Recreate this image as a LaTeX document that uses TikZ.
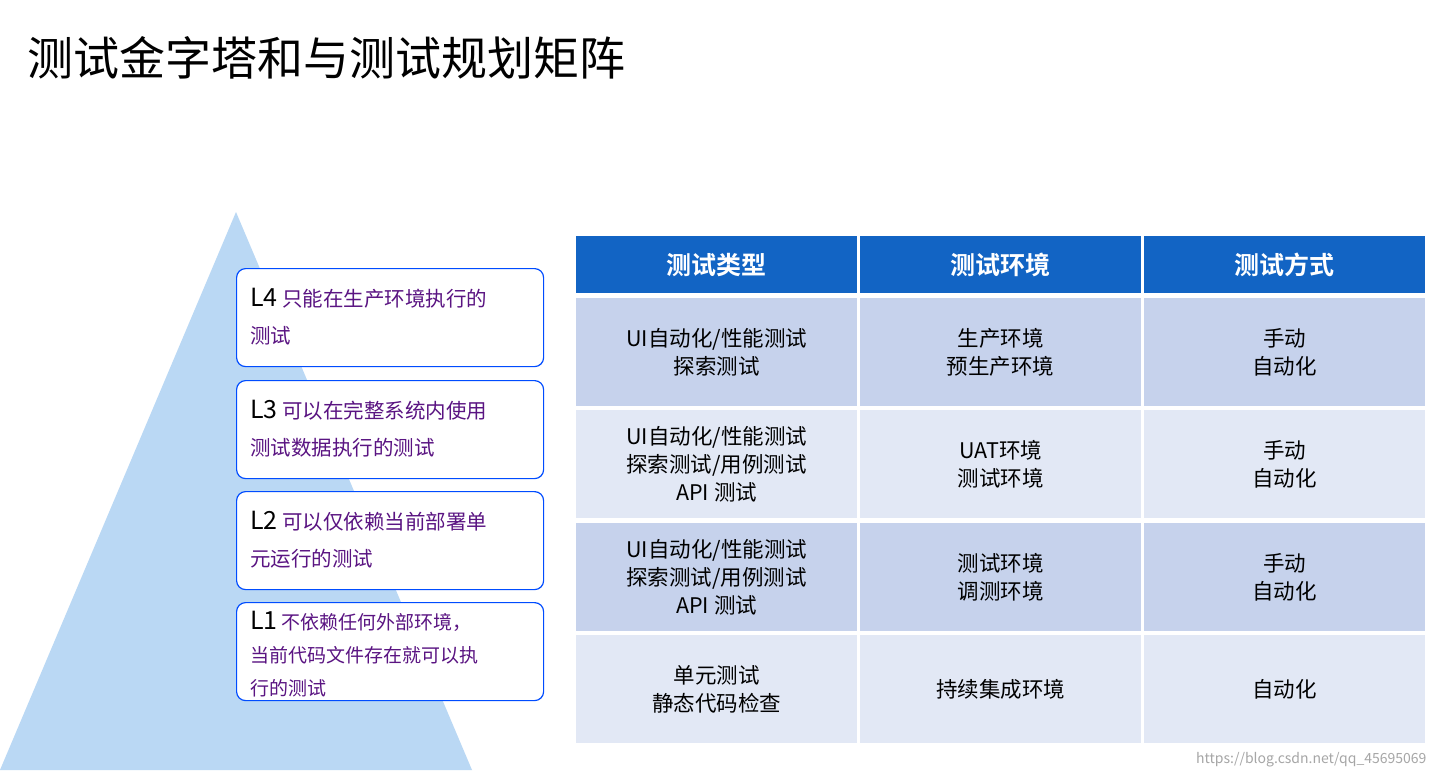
\documentclass[tikz,border=0pt]{standalone}
\usepackage{fontspec}
\setmainfont{Noto Sans CJK SC}
\newfontfamily\cjk{Noto Sans CJK SC}
\newfontfamily\cjkb{Noto Sans CJK SC Bold}
\begin{document}
\begin{tikzpicture}[x=1pt,y=-1pt,
  lvbox/.style={draw=blue!70!cyan,line width=1.2pt,rounded corners=9pt,fill=white,minimum width=307pt,anchor=north west,inner sep=0},
  hdr/.style={fill=tblue,text=white,font=\cjkb\fontsize{25}{28}\selectfont,minimum width=281pt,minimum height=57pt,anchor=north west,inner sep=0},
  cdark/.style={fill=rowdark,minimum width=281pt,minimum height=108pt,anchor=north west,inner sep=0,align=center,font=\cjk\fontsize{21.5}{28}\selectfont},
  clight/.style={cdark,fill=rowlight}]
\definecolor{tblue}{RGB}{18,100,196}
\definecolor{rowdark}{RGB}{198,210,236}
\definecolor{rowlight}{RGB}{226,232,245}
\definecolor{tri}{RGB}{186,216,244}
\definecolor{lvtext}{RGB}{90,20,130}
\useasboundingbox (0,0) rectangle (1435,777);
\fill[white] (0,0) rectangle (1435,777);
\node[anchor=west,font=\cjk\fontsize{46}{50}\selectfont] (title) at (24,58) {测试金字塔和与测试规划矩阵};
\fill[tri] (236,212) -- (472,770) -- (0,770) -- cycle;
\newcommand\lv[5]{\node[lvbox,minimum height=98pt] (#1) at (236,#2) {};
 \node[anchor=north west,align=left,inner sep=0,font=\cjk\fontsize{20.5}{37}\selectfont,text=lvtext] (#1t) at (250,#2+20) {{\fontsize{25}{37}\selectfont\color{black}#3} #4\\#5};}
\lv{l4}{268}{L4}{只能在生产环境执行的}{测试}
\lv{l3}{380}{L3}{可以在完整系统内使用}{测试数据执行的测试}
\lv{l2}{491}{L2}{可以仅依赖当前部署单}{元运行的测试}
\node[lvbox,minimum height=98pt] (l1) at (236,602) {};
\node[anchor=north west,align=left,inner sep=0,font=\cjk\fontsize{19}{33}\selectfont,text=lvtext] (l1t) at (250,611) {{\fontsize{25}{33}\selectfont\color{black}L1} 不依赖任何外部环境，\\当前代码文件存在就可以执\\行的测试};
\node[hdr] (h1) at (576,236) {测试类型};
\node[hdr] (h2) at (860,236) {测试环境};
\node[hdr] (h3) at (1144,236) {测试方式};
\node[cdark] (a1) at (576,298) {UI自动化/性能测试\\探索测试};
\node[cdark] (b1) at (860,298) {生产环境\\预生产环境};
\node[cdark] (c1) at (1144,298) {手动\\自动化};
\node[clight] (a2) at (576,410) {UI自动化/性能测试\\探索测试/用例测试\\API 测试};
\node[clight] (b2) at (860,410) {UAT环境\\测试环境};
\node[clight] (c2) at (1144,410) {手动\\自动化};
\node[cdark] (a3) at (576,523) {UI自动化/性能测试\\探索测试/用例测试\\API 测试};
\node[cdark] (b3) at (860,523) {测试环境\\调测环境};
\node[cdark] (c3) at (1144,523) {手动\\自动化};
\node[clight] (a4) at (576,635) {单元测试\\静态代码检查};
\node[clight] (b4) at (860,635) {持续集成环境};
\node[clight] (c4) at (1144,635) {自动化};
\node[anchor=south east,text=gray!70,font=\fontsize{14}{16}\selectfont] (wm) at (1430,771) {https://blog.csdn.net/qq\_45695069};
\end{tikzpicture}
\end{document}
